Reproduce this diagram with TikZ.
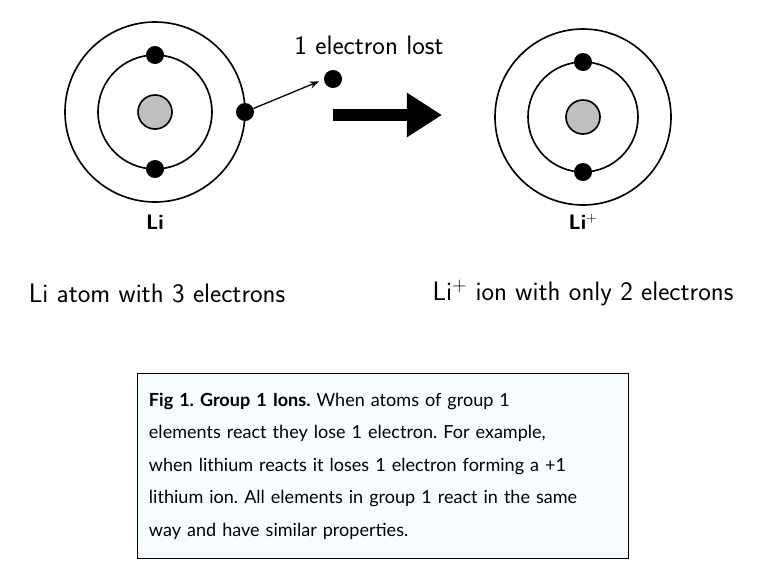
\documentclass[tikz,border=0pt]{standalone}
\usepackage{fontspec}
\newfontfamily\capfont{Lato}
\usetikzlibrary{arrows.meta}
\begin{document}
\frenchspacing
\begin{tikzpicture}[x=0.03cm,y=-0.03cm,
  shell/.style={draw,line width=1.4pt},
  electron/.style={circle,fill=black,inner sep=0pt,minimum size=18\pxu},
  nucleus/.style={circle,draw,line width=1.4pt,fill=gray!50,inner sep=0pt,minimum size=34\pxu},
  label/.style={font=\sffamily\fontsize{22.8}{25}\selectfont},
  symbol/.style={font=\sffamily\bfseries\fontsize{18}{20}\selectfont}]
\def\pxu{*0.03cm}
\useasboundingbox (0,0) rectangle (768,583);
% left atom
\draw[shell] (155,112) circle (90);
\draw[shell] (155,112) circle (57);
\node[nucleus] (nucL) at (155,112) {};
\node[electron] (eL1) at (155,55) {};
\node[electron] (eL2) at (155,169) {};
\node[electron] (eL3) at (245,112) {};
\node[symbol] (li) at (155,222) {Li};
% lost electron
\node[electron] (eLost) at (333,79) {};
\node[label] (lostlbl) at (369,45) {1 electron lost};
\draw[-{Stealth[length=8pt]},line width=1.1pt] (eL3) -- ([xshift=-4pt,yshift=-2pt]eLost.west);
\draw[line width=11pt,-{Triangle[length=30pt,width=36pt]}] (333,115) coordinate (arrA) -- (442,115) coordinate (arrB);
% right atom
\draw[shell] (583,117) circle (88);
\draw[shell] (583,117) circle (55);
\node[nucleus] (nucR) at (583,117) {};
\node[electron] (eR1) at (583,62) {};
\node[electron] (eR2) at (583,172) {};
\node[symbol] (liion) at (583,222) {Li$^{+}$};
% captions
\node[label] (capL) at (157,293) {Li atom with 3 electrons};
\node[label] (capR) at (583,293) {Li$^{+}$ ion with only 2 electrons};
% figure box
\node[draw,line width=0.8pt,fill=cyan!3,anchor=north west,minimum width=491\pxu,minimum height=185\pxu,
  text width=468\pxu,align=left,inner xsep=11\pxu,
  font=\capfont\fontsize{15.4}{27.7}\selectfont] (fig) at (137,373)
  {\textbf{Fig 1. Group 1 Ions.} When atoms of group 1\\
   elements react they lose 1 electron. For example,\\
   when lithium reacts it loses 1 electron forming a +1\\
   lithium ion. All elements in group 1 react in the same\\
   way and have similar properties.};
\end{tikzpicture}
\end{document}
